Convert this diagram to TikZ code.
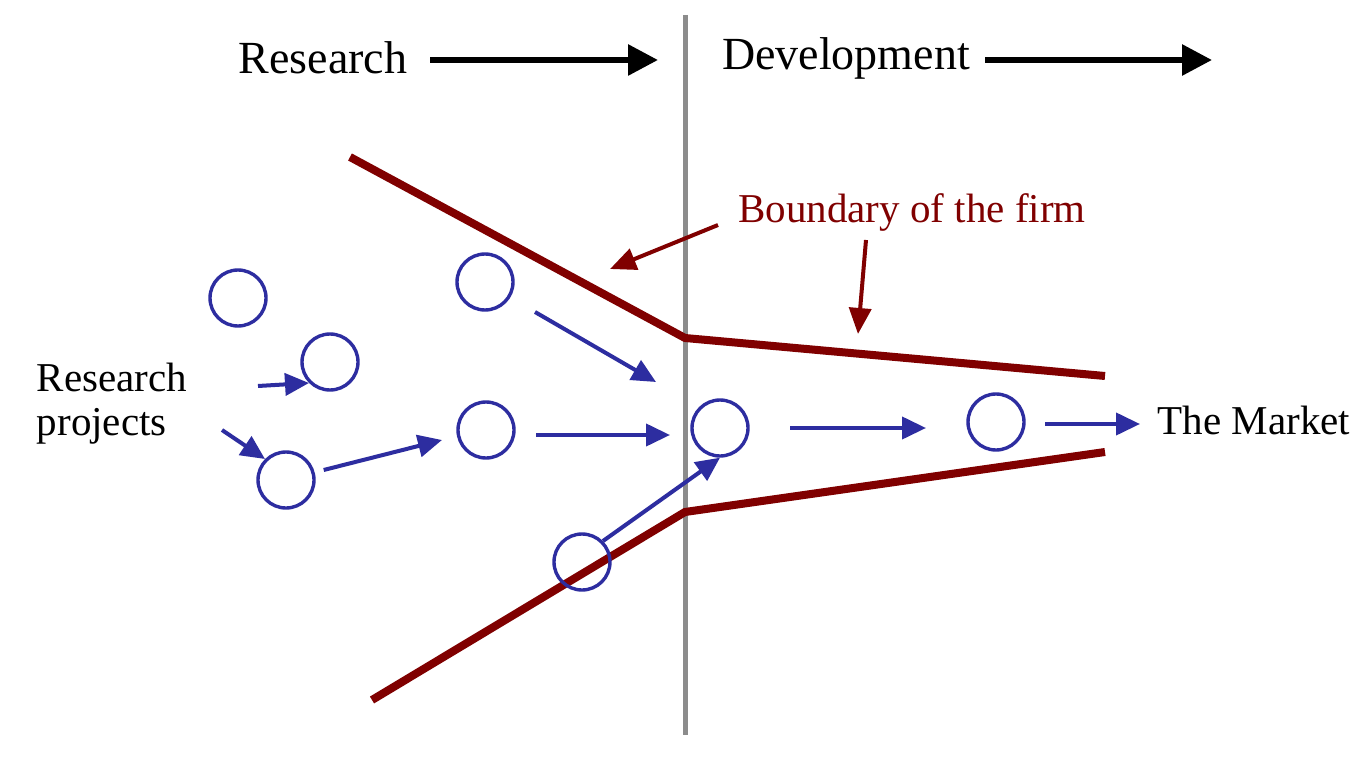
\documentclass[tikz,border=0pt]{standalone}
\usepackage{fontspec}
\setmainfont{Liberation Serif}
\usetikzlibrary{arrows.meta}
\definecolor{firm}{RGB}{128,0,0}
\definecolor{proj}{RGB}{45,45,160}
\tikzset{
  proj/.style={circle,draw=proj,line width=3.4pt,minimum size=56pt,inner sep=0pt},
  parrow/.style={draw=proj,line width=4pt,-{Triangle[length=24pt,width=22pt]}},
  farrow/.style={draw=firm,line width=4pt,-{Triangle[length=26pt,width=22pt]}},
  barrow/.style={draw=black,line width=6pt,-{Triangle[length=30pt,width=30pt]}},
  bound/.style={draw=firm,line width=8pt},
  big/.style={font=\fontsize{46}{52}\selectfont},
  lab/.style={font=\fontsize{41}{44}\selectfont}
}
\begin{document}
\begin{tikzpicture}[x=1pt,y=-1pt]
\useasboundingbox[fill=white] (0,0) rectangle (1352,770);
\draw[gray!90,line width=5pt] (685,15) -- (685,735);
\node[big] (res) at (323,58) {Research};
\node[big] (dev) at (846,58) {Development};
\coordinate (r1) at (430,60); \coordinate (r2) at (658,60);
\coordinate (d1) at (985,60); \coordinate (d2) at (1212,60);
\draw[barrow] (r1) -- (r2);
\draw[barrow] (d1) -- (d2);
\coordinate (u1) at (350,157); \coordinate (u2) at (685,338); \coordinate (u3) at (1105,376);
\coordinate (l1) at (372,700); \coordinate (l2) at (685,512); \coordinate (l3) at (1105,452);
\draw[bound] (u1) -- (u2) -- (u3);
\draw[bound] (l1) -- (l2) -- (l3);
\node[lab,text=firm] (bf) at (912,212) {Boundary of the firm};
\coordinate (fa1) at (718,225); \coordinate (fa2) at (610,269);
\coordinate (fb1) at (866,240); \coordinate (fb2) at (858,334);
\draw[farrow] (fa1) -- (fa2);
\draw[farrow] (fb1) -- (fb2);
\node[proj] (c1) at (238,298) {};
\node[proj] (c2) at (330,362) {};
\node[proj] (c3) at (286,480) {};
\node[proj] (c4) at (485,282) {};
\node[proj] (c5) at (486,430) {};
\node[proj] (c6) at (720,428) {};
\node[proj] (c7) at (996,422) {};
\node[proj] (c8) at (582,562) {};
\node[lab,align=left] (rp) at (112,404) {Research\\projects};
\node[lab] (mk) at (1254,420) {The Market};
\coordinate (a1) at (258,386); \coordinate (a2) at (222,430);
\coordinate (a3) at (535,312); \coordinate (a4) at (656,382);
\coordinate (a5) at (536,435); \coordinate (a6) at (670,435);
\coordinate (a7) at (790,428); \coordinate (a8) at (926,428);
\coordinate (a9) at (1045,424); \coordinate (a10) at (1140,424);
\draw[parrow] (a1) -- (c2.south west);
\draw[parrow] (a2) -- (c3.north west);
\draw[parrow] (c3.east) ++(8,-10) -- (442,440);
\draw[parrow] (a3) -- (a4);
\draw[parrow] (a5) -- (a6);
\draw[parrow] (c8.north east) -- (c6.south);
\draw[parrow] (a7) -- (a8);
\draw[parrow] (a9) -- (a10);
\end{tikzpicture}
\end{document}
